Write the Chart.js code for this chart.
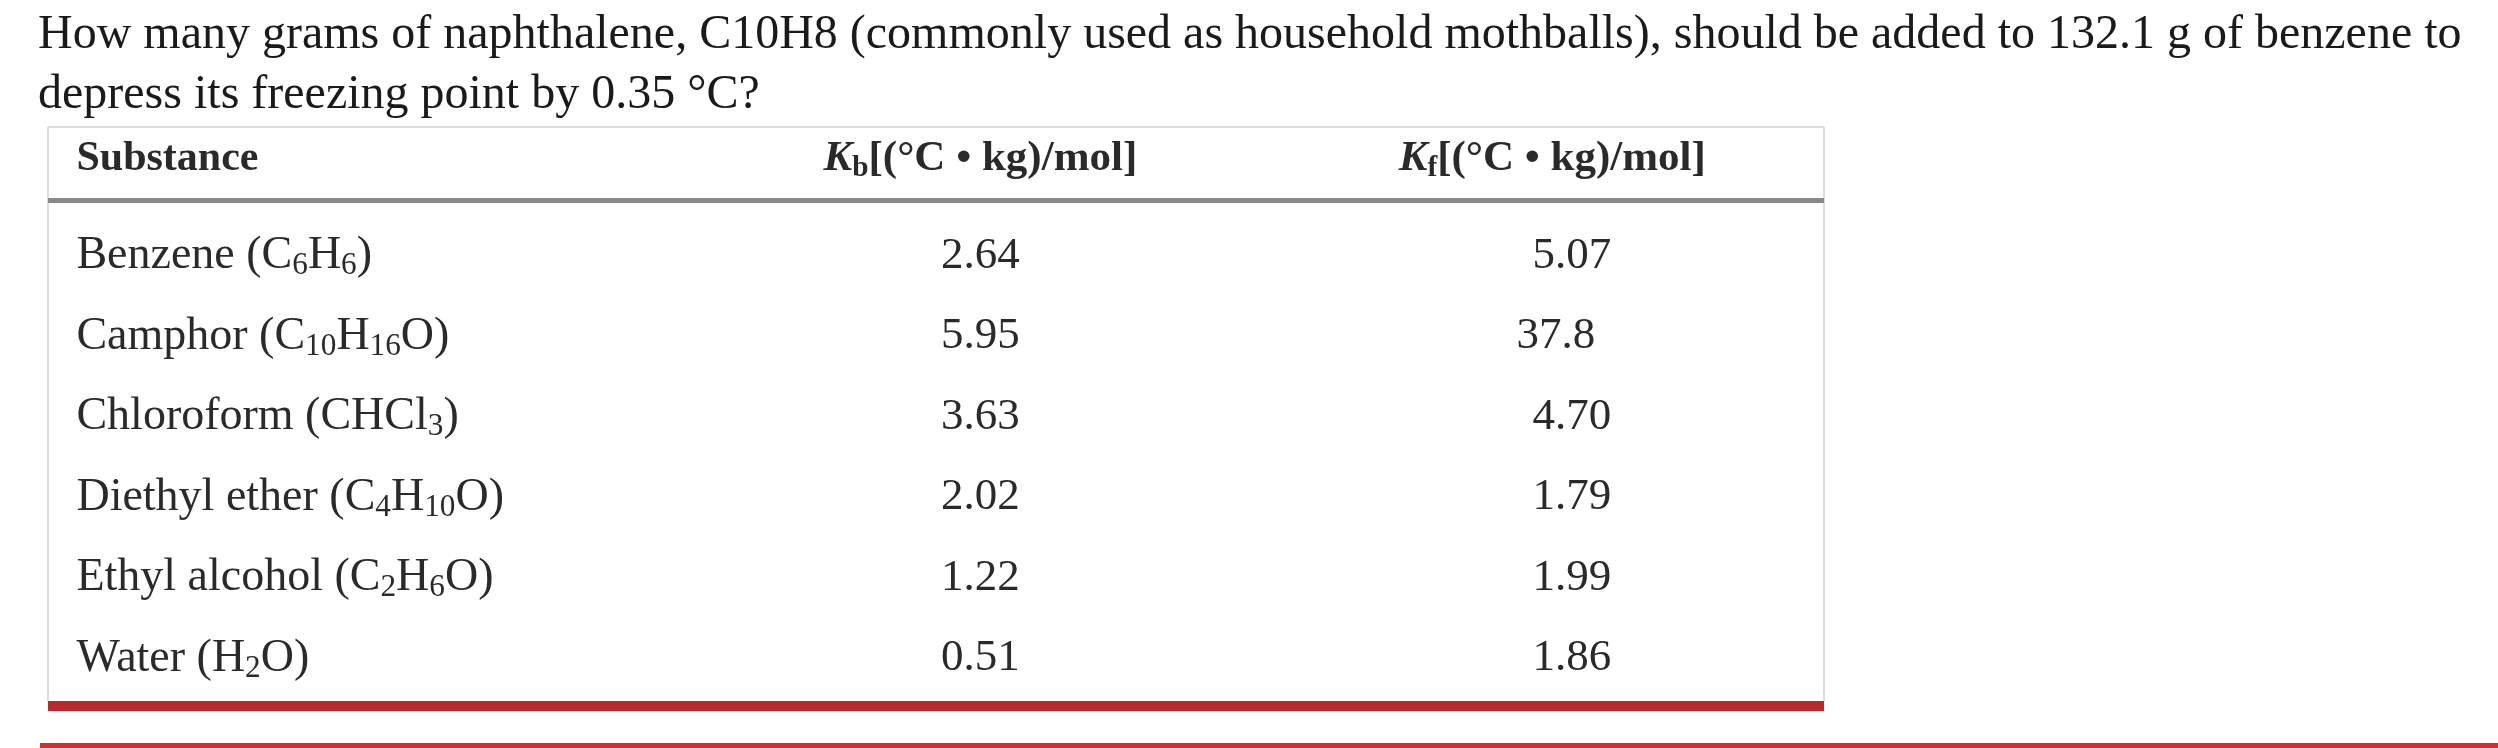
<!DOCTYPE html>
<html>
<head>
<meta charset="utf-8">
<script src="https://cdn.jsdelivr.net/npm/chart.js@4"></script>
<style>
body { margin: 0; background: #fff; }
#q { position: absolute; left: 38px; top: 2px; font: 48px "Liberation Serif", serif; color: #1a1a1a; line-height: 60px; width: 2470px; white-space: nowrap; }
#wrap { position: absolute; left: 0; top: 0; width: 2498px; height: 748px; }
</style>
</head>
<body>
<div id="wrap"><canvas id="myChart"></canvas></div>
<div id="q">How many grams of naphthalene, C10H8 (commonly used as household mothballs), should be added to 132.1 g of benzene to<br>depress its freezing point by 0.35 °C?</div>
<script>
var headers = ["Substance", "K_b[(°C • kg)/mol]", "K_f[(°C • kg)/mol]"];
var substances = ["Benzene (C_6H_6)", "Camphor (C_10H_16O)", "Chloroform (CHCl_3)", "Diethyl ether (C_4H_10O)", "Ethyl alcohol (C_2H_6O)", "Water (H_2O)"];
var kb = ["2.64", "5.95", "3.63", "2.02", "1.22", "0.51"];
var kf = ["5.07", "37.8", "4.70", "1.79", "1.99", "1.86"];

function drawRich(ctx, str, x, y, size, align, weight, italicFirst) {
    // "_" marks a subscript piece
    var s = str.replace(/_(\d+|[a-z])/g, "\u0001$1\u0002");
    var bits = s.split(/[\u0001\u0002]/);
    var parts = [];
    for (var i = 0; i < bits.length; i++) {
        parts.push({t: bits[i], sub: i % 2 == 1, it: italicFirst && i == 0});
    }
    var fontOf = function (p) {
        return (p.it ? "italic " : "") + (weight || "") + " " + (p.sub ? size * 0.68 : size) + "px 'Liberation Serif', serif";
    };
    var w = 0;
    parts.forEach(function (p) {
        ctx.font = fontOf(p);
        p.w = ctx.measureText(p.t).width;
        w += p.w;
    });
    var cx = align == "center" ? x - w / 2 : x;
    parts.forEach(function (p) {
        ctx.font = fontOf(p);
        ctx.fillText(p.t, cx, p.sub ? y + size * 0.22 : y);
        cx += p.w;
    });
}

var tablePlugin = {
    id: "tablePlugin",
    afterDraw: function (chart) {
        var ctx = chart.ctx;
        var xs = chart.scales.x, ys = chart.scales.y;
        var l = xs.getPixelForValue(0), r = xs.getPixelForValue(1);
        ctx.save();
        ctx.strokeStyle = "#dcdcdc"; ctx.lineWidth = 2;
        ctx.beginPath();
        ctx.moveTo(l, 127); ctx.lineTo(r, 127);
        ctx.moveTo(l, 127); ctx.lineTo(l, 702);
        ctx.moveTo(r, 127); ctx.lineTo(r, 702);
        ctx.stroke();
        ctx.fillStyle = "#8a8a8a"; ctx.fillRect(l, 198, r - l, 5);
        ctx.fillStyle = "#b8282e"; ctx.fillRect(l, 701, r - l, 10);
        ctx.fillStyle = "#d03030"; ctx.fillRect(40, 743, 2458, 5);
        ctx.textBaseline = "middle";
        ctx.fillStyle = "#2a2a2a";
        var hy = ys.getPixelForValue(-1.2);
        drawRich(ctx, headers[0], xs.getPixelForValue(0.016), hy, 42, "left", "bold");
        drawRich(ctx, headers[1], xs.getPixelForValue(0.525), hy, 43, "center", "bold", true);
        drawRich(ctx, headers[2], xs.getPixelForValue(0.847), hy, 43, "center", "bold", true);
        for (var i = 0; i < substances.length; i++) {
            var y = ys.getPixelForValue(i);
            drawRich(ctx, substances[i], xs.getPixelForValue(0.016), y, 46, "left");
            drawRich(ctx, kb[i], xs.getPixelForValue(0.525), y, 45, "center");
            drawRich(ctx, kf[i], xs.getPixelForValue(i == 1 ? 0.849 : 0.858), y, 45, "center");
        }
        ctx.restore();
    }
};

var ctx = document.getElementById("myChart");
var myChart = new Chart(ctx, {
    type: "scatter",
    data: { datasets: [{ data: substances.map(function (s, i) { return {x: 0, y: i}; }), pointRadius: 0 }] },
    options: {
        responsive: true,
        maintainAspectRatio: false,
        animation: false,
        layout: { padding: { left: 48, right: 674, top: 127, bottom: 41 } },
        plugins: { legend: { display: false }, tooltip: { enabled: false } },
        scales: {
            x: { type: "linear", min: 0, max: 1, display: false },
            y: { type: "linear", min: -1.6, max: 5.6, reverse: true, display: false }
        }
    },
    plugins: [tablePlugin]
});
</script>
</body>
</html>
